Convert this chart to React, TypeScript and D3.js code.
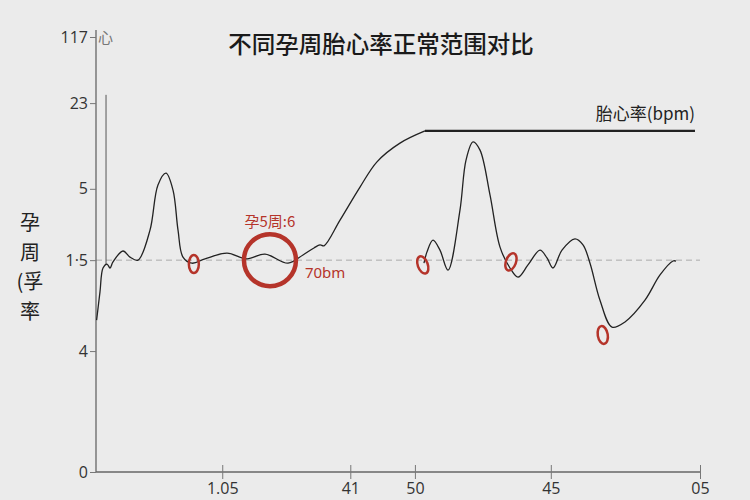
import React, { useRef, useEffect } from "react";
import * as d3 from "d3";

// plot space is 0..100 on both axes
const trendX = [0.1, 0.66, 1.16, 1.82, 2.32, 2.81, 4.47, 5.63, 6.95, 8.94, 10.26, 11.59, 12.75, 13.58, 14.4, 15.89, 18.05, 21.69, 25.0, 27.98, 31.79, 34.27, 36.09, 37.09, 37.75, 40.4, 43.71, 46.52, 50.33, 54.47];
const trendY = [34.9, 41.4, 46.9, 47.8, 46.9, 48.3, 50.8, 49.4, 48.7, 55.6, 66.0, 68.7, 64.8, 55.6, 49.4, 48.0, 49.0, 50.3, 49.0, 50.1, 48.0, 49.9, 51.5, 52.2, 52.0, 57.9, 65.5, 71.3, 75.6, 78.4];

const plateauX = [54.47, 99.17];
const plateauY = [78.4, 78.4];

const pulseX = [54.3, 54.8, 55.79, 56.95, 58.28, 60.26, 61.26, 62.42, 63.58, 65.23, 66.89, 68.54, 69.87, 71.52, 73.51, 74.67, 75.66, 77.15, 79.3, 80.63, 81.79, 83.44, 85.43, 87.58, 90.89, 93.38, 95.53, 96.03];
const pulseY = [48.0, 50.6, 53.3, 51.0, 46.4, 60.2, 71.7, 75.9, 74.0, 63.7, 51.7, 46.9, 44.8, 47.6, 51.0, 49.2, 46.9, 51.0, 53.6, 52.2, 48.0, 39.5, 33.3, 34.5, 39.5, 45.3, 48.5, 48.5];

const normalLevel = 48.7;

const yTickValues = [0, 27.8, 48.7, 65.1, 84.8, 100];
const yTickLabels = ["0", "4", "1·5", "5", "23", "117"];
const xTickValues = [20.9, 42.1, 52.8, 75.3, 100];
const xTickLabels = ["1.05", "41", "50", "45", "05"];

// red hand-drawn marks
const loopX = [16.2, 54.1, 68.7, 83.9];
const loopY = [47.8, 47.6, 48.3, 31.5];
const loopTilt = [0, -20, 20, -10];
const ringX = 28.8;
const ringY = 48.7;

const W = 750;
const H = 500;
const RED = "#b5342a";

const App: React.FC = () => {
  const svgRef = useRef<SVGSVGElement>(null);

  useEffect(() => {
    if (!svgRef.current) return;
    const svg = d3.select(svgRef.current);
    svg.selectAll("*").remove();

    const x = d3.scaleLinear().domain([0, 100]).range([96, 700]);
    const y = d3.scaleLinear().domain([0, 100]).range([472, 37]);

    svg.append("rect").attr("width", W).attr("height", H).attr("fill", "#ebebeb");

    // title
    svg
      .append("text")
      .attr("x", 381)
      .attr("y", 53)
      .attr("text-anchor", "middle")
      .style("font-family", "'Noto Sans CJK SC', sans-serif")
      .style("font-size", "23.5px")
      .style("font-weight", "500")
      .attr("fill", "#1a1a1a")
      .text("不同孕周胎心率正常范围对比");

    // y axis title, one row per glyph group
    const yTitle = ["孕", "周", "(孚", "率"];
    svg
      .append("g")
      .selectAll("text")
      .data(yTitle)
      .join("text")
      .attr("x", 30)
      .attr("y", (_, i) => 230 + i * 29.5)
      .attr("text-anchor", "middle")
      .style("font-family", "'Noto Sans CJK SC', sans-serif")
      .style("font-size", "20px")
      .attr("fill", "#222")
      .text((d) => d);

    // normal level dashed line
    svg
      .append("line")
      .attr("x1", x(0))
      .attr("x2", x(100))
      .attr("y1", y(normalLevel))
      .attr("y2", y(normalLevel))
      .attr("stroke", "#aaa")
      .attr("stroke-width", 1)
      .attr("stroke-dasharray", "6,4");

    // axes
    const yAxis = d3
      .axisLeft(y)
      .tickValues(yTickValues)
      .tickFormat((_, i) => yTickLabels[i])
      .tickSize(6)
      .tickPadding(2);
    const gy = svg.append("g").attr("transform", `translate(${x(0)},0)`).call(yAxis);
    gy.select(".domain").attr("d", `M0,30V${y(0)}`).attr("stroke", "#666").attr("stroke-width", 1.3);
    gy.selectAll(".tick line").attr("stroke", "#777");
    gy.selectAll(".tick text")
      .style("font-family", "'Open Sans', sans-serif")
      .style("font-size", "16px")
      .attr("fill", "#333");

    const xAxis = d3
      .axisBottom(x)
      .tickValues(xTickValues)
      .tickFormat((_, i) => xTickLabels[i])
      .tickSize(7)
      .tickPadding(4);
    const gx = svg.append("g").attr("transform", `translate(0,${y(0)})`).call(xAxis);
    gx.select(".domain").attr("d", `M${x(0)},0H${x(100)}`).attr("stroke", "#666").attr("stroke-width", 1.3);
    gx.selectAll(".tick line").attr("y1", -7).attr("stroke", "#777");
    gx.selectAll(".tick text")
      .style("font-family", "'Open Sans', sans-serif")
      .style("font-size", "16px")
      .attr("fill", "#333");

    // top glyph near the 117 tick
    svg
      .append("text")
      .attr("x", x(0) + 2)
      .attr("y", y(100) + 6)
      .style("font-family", "'Noto Sans CJK SC', sans-serif")
      .style("font-size", "15px")
      .attr("fill", "#777")
      .text("心");

    // second thin vertical rule
    svg
      .append("line")
      .attr("x1", x(1.66))
      .attr("x2", x(1.66))
      .attr("y1", y(86.7))
      .attr("y2", y(47.6))
      .attr("stroke", "#555")
      .attr("stroke-width", 1);

    const line = d3
      .line<[number, number]>()
      .x((d) => x(d[0]))
      .y((d) => y(d[1]))
      .curve(d3.curveCatmullRom.alpha(0.5));

    const trend: [number, number][] = trendX.map((v, i) => [v, trendY[i]]);
    const pulse: [number, number][] = pulseX.map((v, i) => [v, pulseY[i]]);
    const plateau: [number, number][] = plateauX.map((v, i) => [v, plateauY[i]]);

    svg.append("path").attr("d", line(trend)).attr("fill", "none").attr("stroke", "#222").attr("stroke-width", 1.3);
    svg.append("path").attr("d", line(pulse)).attr("fill", "none").attr("stroke", "#222").attr("stroke-width", 1.3);
    svg
      .append("path")
      .attr("d", d3.line<[number, number]>().x((d) => x(d[0])).y((d) => y(d[1]))(plateau))
      .attr("fill", "none")
      .attr("stroke", "#222")
      .attr("stroke-width", 2.2);

    svg
      .append("text")
      .attr("x", x(99.17))
      .attr("y", 120)
      .attr("text-anchor", "end")
      .style("font-family", "'Noto Sans CJK SC', sans-serif")
      .style("font-size", "17px")
      .attr("fill", "#222")
      .text("胎心率(bpm)");

    // red annotations
    svg
      .append("circle")
      .attr("cx", x(ringX))
      .attr("cy", y(ringY))
      .attr("r", 26)
      .attr("fill", "none")
      .attr("stroke", RED)
      .attr("stroke-width", 4.5);

    svg
      .append("text")
      .attr("x", x(ringX))
      .attr("y", y(ringY) - 33)
      .attr("text-anchor", "middle")
      .style("font-family", "'Noto Sans CJK SC', sans-serif")
      .style("font-size", "15px")
      .attr("fill", RED)
      .text("孕5周:6");

    svg
      .append("text")
      .attr("x", x(ringX) + 35)
      .attr("y", y(ringY) + 18)
      .style("font-family", "'Noto Sans', sans-serif")
      .style("font-size", "15px")
      .attr("fill", RED)
      .text("70bm");

    svg
      .append("g")
      .selectAll("ellipse")
      .data(loopX)
      .join("ellipse")
      .attr("cx", 0)
      .attr("cy", 0)
      .attr("rx", 5)
      .attr("ry", 9)
      .attr("transform", (d, i) => `translate(${x(d)},${y(loopY[i])}) rotate(${loopTilt[i]})`)
      .attr("fill", "none")
      .attr("stroke", RED)
      .attr("stroke-width", 2.5);
  }, []);

  return (
    <div style={{ position: "fixed", left: 0, top: 0, width: W, height: H, background: "#ebebeb" }}>
      <svg ref={svgRef} width={W} height={H} style={{ display: "block" }} />
    </div>
  );
};

export default App;
